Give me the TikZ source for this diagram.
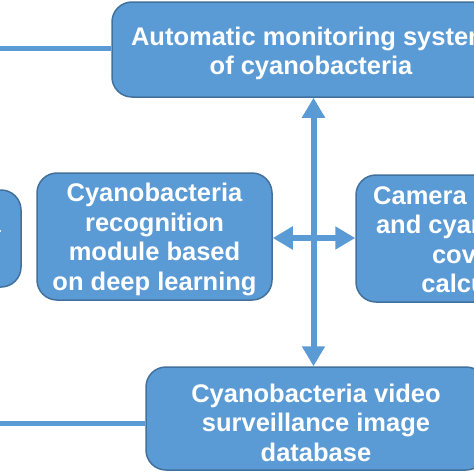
\documentclass[tikz,border=0pt]{standalone}
\usepackage{fontspec}
\setmainfont{Liberation Sans}
\usetikzlibrary{arrows.meta,calc}
\definecolor{boxfill}{HTML}{5B9BD5}
\definecolor{boxedge}{HTML}{41719C}
\begin{document}
\begin{tikzpicture}[x=1pt,y=-1pt,
  blockbox/.style={draw=boxedge, line width=1.5pt, fill=boxfill, rounded corners=20pt,
    inner sep=0pt},
  boxtext/.style={text=white, align=center, inner sep=0pt,
    font=\fontsize{25.5}{29.5}\selectfont\bfseries},
  link/.style={draw=boxfill, line width=5pt},
  dblarrow/.style={draw=boxfill, line width=6pt,
    {Triangle[width=22pt,length=20pt]}-{Triangle[width=22pt,length=20pt]}}]
\useasboundingbox (0,0) rectangle (474,474);
\clip (0,0) rectangle (474,474);
\fill[white] (0,0) rectangle (474,474);

\node[blockbox, minimum width=398pt, minimum height=95pt] (top) at (311,49.5) {};
\node[boxtext, yshift=-4pt] (toptext) at (top.center)
  {Automatic monitoring system\\of cyanobacteria};

\node[blockbox, minimum width=171pt, minimum height=97pt] (left) at (-64.5,238.5) {};
\node[boxtext, align=right, anchor=east] (lefttext) at (1,241) {Video data\\upload};

\node[blockbox, minimum width=235pt, minimum height=127pt] (cyano) at (154.5,236.5) {};
\node[boxtext, yshift=-3pt] (cyanotext) at (cyano.center)
  {Cyanobacteria\\recognition\\module based\\on deep learning};

\node[blockbox, minimum width=256pt, minimum height=127pt] (cam) at (484,238.5) {};
\node[boxtext, xshift=4pt, yshift=-1pt] (camtext) at (cam.center)
  {Camera calibration\\and cyanobacteria\\coverage\\calculation};

\node[blockbox, minimum width=340pt, minimum height=103pt] (bot) at (316,418.5) {};
\node[boxtext, yshift=-4pt] (bottext) at (bot.center)
  {Cyanobacteria video\\surveillance image\\database};

\coordinate (lt) at (0,48);
\coordinate (lb) at (0,423);
\coordinate (vx) at (313.5,0);
\coordinate (hy) at (0,238);

\draw[link] (lt) -- (lt -| top.west);
\draw[link] (lb) -- (lb -| bot.west);
\draw[dblarrow] (vx |- top.south) -- (vx |- bot.north);
\draw[dblarrow] (hy -| cyano.east) -- (hy -| cam.west);
\end{tikzpicture}
\end{document}
